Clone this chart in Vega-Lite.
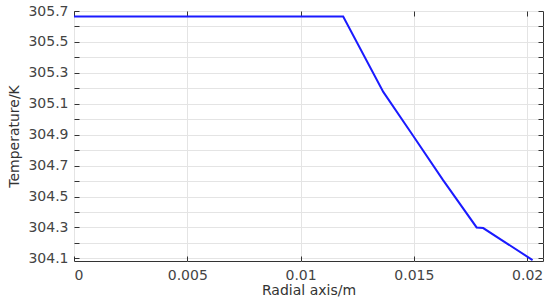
{
  "$schema": "https://vega.github.io/schema/vega-lite/v6.json",
  "width": 469,
  "height": 250,
  "autosize": "none",
  "padding": {"left": 74, "top": 11, "right": 7, "bottom": 40},
  "config": {
    "view": {"stroke": "#333333", "strokeWidth": 1},
    "font": "DejaVu Sans"
  },
  "data": {
    "values": [
      {"r": 0, "T": 305.665},
      {"r": 0.01188, "T": 305.665},
      {"r": 0.01365, "T": 305.177},
      {"r": 0.0149, "T": 304.908},
      {"r": 0.01629, "T": 304.606},
      {"r": 0.01777, "T": 304.3},
      {"r": 0.01806, "T": 304.296},
      {"r": 0.02024, "T": 304.089}
    ]
  },
  "layer": [
    {
      "mark": {"type": "line", "color": "#1a1aff", "strokeWidth": 2, "clip": true},
      "encoding": {
        "x": {
          "field": "r", "type": "quantitative",
          "scale": {"domain": [0, 0.0207], "nice": false, "zero": false},
          "axis": {
            "orient": "bottom",
            "values": [0, 0.005, 0.01, 0.015, 0.02],
            "format": "~g",
            "tickSize": -5, "tickColor": "#333333",
            "labelFontSize": 14, "labelColor": "#444444", "labelPadding": 12,
            "grid": true, "gridColor": "#e4e4e4",
            "domain": false,
            "title": "Radial axis/m", "titleFontSize": 14, "titleFontWeight": "normal", "titleColor": "#333333", "titlePadding": 1
          }
        },
        "y": {
          "field": "T", "type": "quantitative",
          "scale": {"domain": [304.083, 305.7], "nice": false, "zero": false},
          "axis": {
            "orient": "left",
            "values": [304.1, 304.2, 304.3, 304.4, 304.5, 304.6, 304.7, 304.8, 304.9, 305.0, 305.1, 305.2, 305.3, 305.4, 305.5, 305.6, 305.7],
            "labelExpr": "round(datum.value*10)%2==1 ? format(datum.value,'.1f') : ''",
            "tickSize": -5, "tickColor": "#333333",
            "labelFontSize": 14, "labelColor": "#444444", "labelPadding": 11,
            "grid": true, "gridColor": "#e4e4e4",
            "domain": false,
            "title": "Temperature/K", "titleFontSize": 14, "titleFontWeight": "normal", "titleColor": "#333333", "titlePadding": 6
          }
        }
      }
    },
    {
      "mark": {"type": "line", "opacity": 0},
      "encoding": {
        "x": {
          "field": "r", "type": "quantitative",
          "scale": {"domain": [0, 0.0207], "nice": false, "zero": false},
          "axis": {
            "orient": "top",
            "values": [0, 0.005, 0.01, 0.015, 0.02],
            "labels": false, "grid": false, "domain": false,
            "tickSize": -5, "tickColor": "#333333", "title": null
          }
        },
        "y": {
          "field": "T", "type": "quantitative",
          "scale": {"domain": [304.083, 305.7], "nice": false, "zero": false},
          "axis": {
            "orient": "right",
            "values": [304.1, 304.2, 304.3, 304.4, 304.5, 304.6, 304.7, 304.8, 304.9, 305.0, 305.1, 305.2, 305.3, 305.4, 305.5, 305.6, 305.7],
            "labels": false, "grid": false, "domain": false,
            "tickSize": -5, "tickColor": "#333333", "title": null
          }
        }
      }
    }
  ],
  "resolve": {"axis": {"x": "independent", "y": "independent"}}
}
